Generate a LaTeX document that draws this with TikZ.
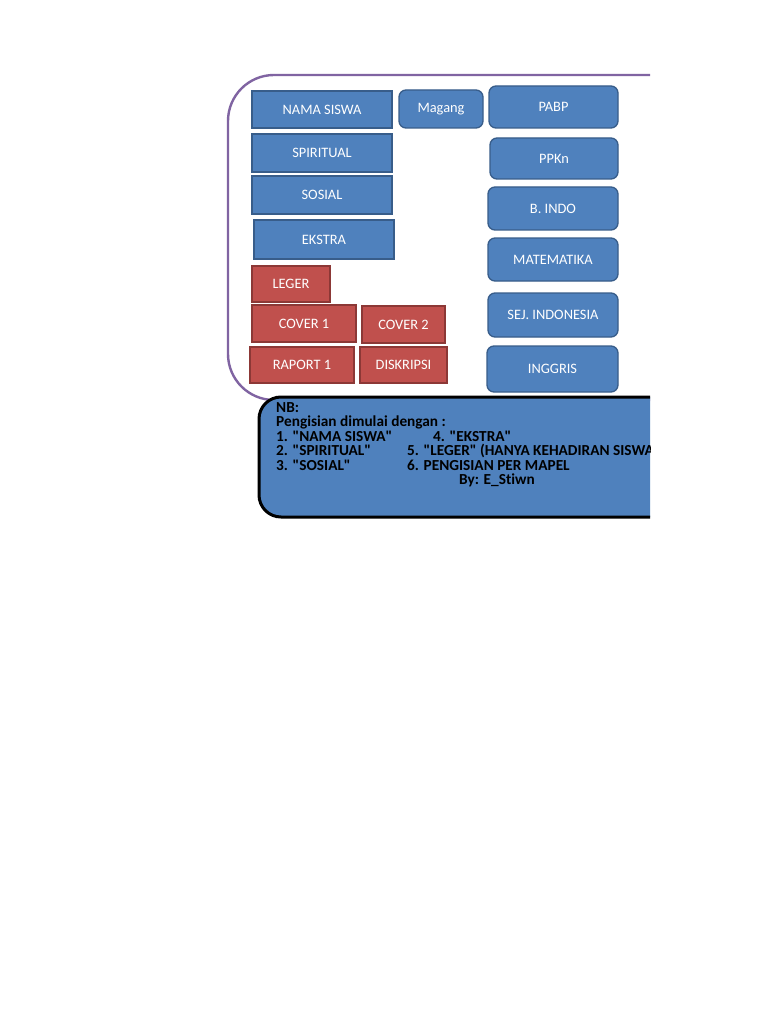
\documentclass[tikz,border=0pt]{standalone}
\usepackage{fontspec}
\setmainfont{Carlito}[Ligatures={TeX,NoCommon}]
\newfontfamily\nbfont{Carlito}[Ligatures=NoCommon]
\definecolor{boxblue}{HTML}{4F81BD}
\definecolor{boxblueline}{HTML}{385D8A}
\definecolor{boxred}{HTML}{C0504D}
\definecolor{boxredline}{HTML}{8C3836}
\definecolor{framepurple}{HTML}{8064A2}
\tikzset{
  basebox/.style={draw, line width=1.3pt, text=white, inner sep=0pt,
    font=\fontsize{14.4}{16}\selectfont},
  bluesq/.style={basebox, fill=boxblue, draw=boxblueline},
  redsq/.style={basebox, fill=boxred, draw=boxredline},
  bluernd/.style={bluesq, rounded corners=7pt},
  nbtext/.style={anchor=base west, inner sep=0pt, font=\nbfont\fontsize{15.3}{17}\bfseries\selectfont, text=black},
}
\begin{document}
\begin{tikzpicture}[x=1pt,y=-1pt]
\useasboundingbox (0,0) rectangle (768,1024);
\fill[white] (0,0) rectangle (768,1024);
\begin{scope}
\clip (0,0) rectangle (650,1024);
\draw[framepurple, line width=2.4pt, rounded corners=46pt] (228,75) rectangle (720,400);
\end{scope}
% left column
\node[bluesq, minimum width=140pt, minimum height=37pt] (nama) at (322,109.5) {NAMA SISWA};
\node[bluernd, minimum width=84pt, minimum height=38pt] (magang) at (441,109) {Magang};
\node[bluesq, minimum width=140pt, minimum height=38pt] (spiritual) at (322,153) {SPIRITUAL};
\node[bluesq, minimum width=140pt, minimum height=38pt] (sosial) at (322,195) {SOSIAL};
\node[bluesq, minimum width=140pt, minimum height=39pt] (ekstra) at (324,239.5) {EKSTRA};
\node[redsq, minimum width=78pt, minimum height=36pt] (leger) at (291,284) {LEGER};
\node[redsq, minimum width=104pt, minimum height=37pt] (cover1) at (304,323.5) {COVER 1};
\node[redsq, minimum width=83pt, minimum height=37pt] (cover2) at (403.5,324.5) {COVER 2};
\node[redsq, minimum width=104pt, minimum height=36pt] (raport1) at (302,365) {RAPORT 1};
\node[redsq, minimum width=87pt, minimum height=36pt] (diskripsi) at (403.5,365) {DISKRIPSI};
% right column
\node[bluernd, minimum width=129pt, minimum height=42pt] (pabp) at (553.5,107) {PABP};
\node[bluernd, minimum width=128pt, minimum height=41pt] (ppkn) at (554,158.5) {PPKn};
\node[bluernd, minimum width=130pt, minimum height=43pt] (bindo) at (553,208.5) {B. INDO};
\node[bluernd, minimum width=130pt, minimum height=43pt] (mtk) at (553,259.5) {MATEMATIKA};
\node[bluernd, minimum width=130pt, minimum height=44pt] (sej) at (553,315) {SEJ. INDONESIA};
\node[bluernd, minimum width=131pt, minimum height=46pt] (inggris) at (552.5,369) {INGGRIS};
% NB box
\begin{scope}
\clip (0,0) rectangle (650,1024);
\draw[fill=boxblue, draw=black, line width=3pt, rounded corners=22pt] (259,397) rectangle (760,517);
\node[nbtext] (nb) at (276,412) {NB:};
\node[nbtext] (nb1) at (276,426.7) {Pengisian dimulai dengan :};
\node[nbtext] (l1) at (276,441.2) {1. "NAMA SISWA"};
\node[nbtext] (l2) at (276,455.7) {2. "SPIRITUAL"};
\node[nbtext] (l3) at (276,470.2) {3. "SOSIAL"};
\node[nbtext] (l4) at (433,441.2) {4. "EKSTRA"};
\node[nbtext] (l5) at (407,455.7) {5. "LEGER" (HANYA KEHADIRAN SISWA)};
\node[nbtext] (l6) at (407,470.2) {6. PENGISIAN PER MAPEL};
\node[nbtext] (by) at (459,484.7) {By: E\_Stiwn};
\end{scope}
\end{tikzpicture}
\end{document}
